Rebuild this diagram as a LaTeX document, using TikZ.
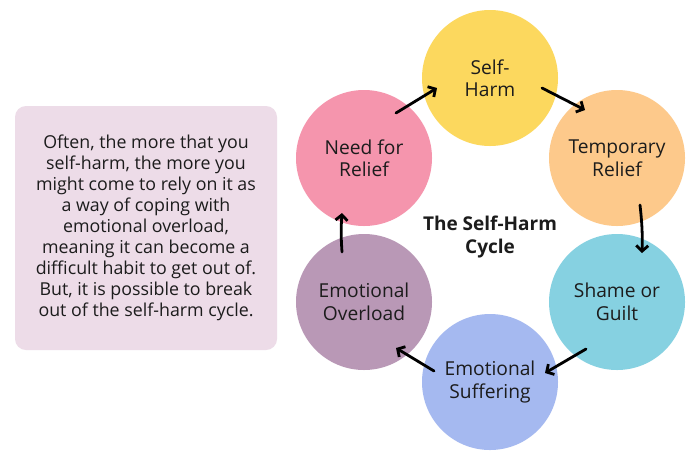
\documentclass[tikz,border=0pt]{standalone}
\usepackage{fontspec}
\setmainfont{Open Sans}
\usetikzlibrary{arrows.meta,calc}
\definecolor{cHarm}{HTML}{FCD85E}
\definecolor{cTemp}{HTML}{FDC98B}
\definecolor{cShame}{HTML}{86D1E1}
\definecolor{cSuff}{HTML}{A5B9F0}
\definecolor{cOver}{HTML}{B998B6}
\definecolor{cNeed}{HTML}{F595AD}
\definecolor{cBox}{HTML}{EDDCE8}
\definecolor{cText}{HTML}{1C1C1C}
\begin{document}
\begin{tikzpicture}[x=1pt,y=-1pt,
  stage/.style={circle, minimum size=136pt, inner sep=0pt, align=center,
    font=\fontsize{19.2}{22.5}\selectfont, text=cText},
  flow/.style={-{Straight Barb[length=5.5pt,width=12pt,line width=2.8pt]}, line width=2.8pt, line cap=round}]
\useasboundingbox (0,0) rectangle (700,459);
\fill[white] (0,0) rectangle (700,459);
\node[rounded corners=11pt, fill=cBox, minimum width=262pt, minimum height=244pt,
  inner sep=0pt, align=center, text=cText, font=\fontsize{17.8}{21}\selectfont] (box) at (146,228)
  {Often, the more that you\\self-harm, the more you\\might come to rely on it as\\a way of coping with\\emotional overload,\\meaning it can become a\\difficult habit to get out of.\\But, it is possible to break\\out of the self-harm cycle.};
\node[stage, fill=cHarm] (harm) at (490,78) {Self-\\Harm};
\node[stage, fill=cTemp] (temp) at (617,158) {Temporary\\Relief};
\node[stage, fill=cShame] (shame) at (617,302) {Shame or\\Guilt};
\node[stage, fill=cSuff] (suff) at (490,382) {Emotional\\Suffering};
\node[stage, fill=cOver] (over) at (364,302) {Emotional\\Overload};
\node[stage, fill=cNeed] (need) at (364,158) {Need for\\Relief};
\node[align=center, text=cText, font=\bfseries\fontsize{19}{23}\selectfont] (title) at (490,237) {The Self-Harm\\Cycle};
\draw[flow] ($(need)+(32,-45)$) -- ($(harm)+(-53,10)$);
\draw[flow] ($(harm)+(52,10)$) -- ($(temp)+(-32,-48)$);
\draw[flow] ($(temp)+(23,47)$) to[bend left=4] ($(shame)+(25,-49)$);
\draw[flow] ($(shame)+(-31,47)$) -- ($(suff)+(55,-9)$);
\draw[flow] ($(suff)+(-56,-11)$) -- ($(over)+(32,46)$);
\draw[flow] ($(over)+(-22,-50)$) to[bend left=4] ($(need)+(-22,55)$);
\end{tikzpicture}
\end{document}
